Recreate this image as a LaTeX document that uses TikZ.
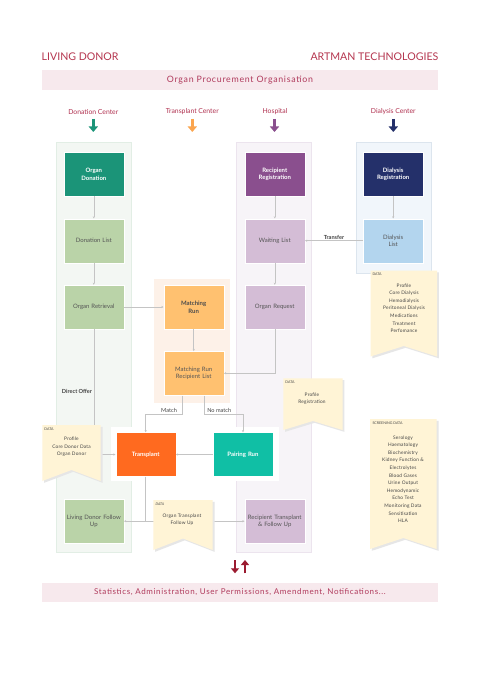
\documentclass[tikz,border=0pt]{standalone}
\usepackage{fontspec}
\setmainfont{Lato}
\newfontfamily\spacedfont[LetterSpace=8]{Lato}
\newfontfamily\notefont[LetterSpace=4]{Lato}
\usetikzlibrary{arrows.meta,calc}
\definecolor{crimson}{HTML}{B5364F}
\definecolor{bannerfill}{HTML}{F7E9ED}
\definecolor{bannertext}{HTML}{B03A5C}
\definecolor{hdrtext}{HTML}{B0304F}
\definecolor{cgreen}{HTML}{1B9478}
\definecolor{corange}{HTML}{FBA54E}
\definecolor{cpurple}{HTML}{8A4F8E}
\definecolor{cnavy}{HTML}{24306A}
\definecolor{lgreen}{HTML}{BAD3A8}
\definecolor{lpurple}{HTML}{D4BDD6}
\definecolor{lblue}{HTML}{B3D5EE}
\definecolor{mrun}{HTML}{FFC170}
\definecolor{tplant}{HTML}{FF6A1F}
\definecolor{pairing}{HTML}{10BFA5}
\definecolor{colgreen}{HTML}{F3F7F3}
\definecolor{colgreenb}{HTML}{E2EEE5}
\definecolor{colpurple}{HTML}{F7F4F8}
\definecolor{colpurpleb}{HTML}{ECE4EE}
\definecolor{colblue}{HTML}{F1F6FB}
\definecolor{colblueb}{HTML}{DCE5EE}
\definecolor{peach}{HTML}{FDF1E8}
\definecolor{notefill}{HTML}{FFF4D6}
\definecolor{noteshadow}{HTML}{E6E6E6}
\definecolor{linegray}{HTML}{C4C4C4}
\definecolor{textgray}{HTML}{555555}
\definecolor{darkarrow}{HTML}{9B1B30}
\begin{document}
\begin{tikzpicture}[x=1pt,y=-1pt,
  box/.style={minimum width=59pt,minimum height=44pt,inner sep=1pt,align=center,text width=58pt,draw=white,line width=0.4pt},
  darkbox/.style={box,text=white,font=\bfseries\fontsize{6}{7.6}\selectfont},
  lightbox/.style={box,text=textgray,font=\fontsize{6}{7.6}\selectfont},
  conn/.style={draw=linegray,line width=0.6pt,-{Stealth[length=2.2pt,width=2.2pt]}},
  colhdr/.style={text=hdrtext,font=\fontsize{6.8}{8}\selectfont},
  hdrarrow/.style={line width=3.3pt,-{Triangle[width=9pt,length=5.5pt]}},
  lbl/.style={text=textgray!80!black,font=\bfseries\fontsize{5.6}{6.8}\selectfont,inner sep=0.5pt},
  notetext/.style={text=textgray!80!black,font=\notefont\fontsize{4.8}{7.6}\selectfont,align=center,inner sep=0pt},
  notetag/.style={text=textgray!80!black,font=\fontsize{3.6}{4}\selectfont,inner sep=0pt,anchor=west}
]
\useasboundingbox (0,0) rectangle (480,679);
\fill[white] (0,0) rectangle (480,679);

% header
\node[anchor=west,text=crimson,font=\fontsize{10.6}{12}\selectfont,inner sep=0pt] (ld) at (41.5,57) {LIVING DONOR};
\node[anchor=east,text=crimson,font=\fontsize{10.6}{12}\selectfont,inner sep=0pt] (at) at (438.5,57) {ARTMAN TECHNOLOGIES};
\fill[bannerfill] (41.7,70) rectangle (438.3,90);
\node[text=bannertext,font=\spacedfont\fontsize{8.8}{9}\selectfont,inner sep=0pt] (opo) at (240,80.2) {Organ Procurement Organisation};

% column headers
\node[colhdr] (hdc) at (93.3,111.7) {Donation Center};
\node[colhdr] (htc) at (192.3,111.7) {Transplant Center};
\node[colhdr] (hho) at (275,111.7) {Hospital};
\node[colhdr] (hdi) at (393.3,111.7) {Dialysis Center};
\draw[hdrarrow,cgreen] (93.3,119) -- (93.3,132);
\draw[hdrarrow,corange] (192.3,119) -- (192.3,132);
\draw[hdrarrow,cpurple] (274.5,119) -- (274.5,132);
\draw[hdrarrow,cnavy] (393.3,119) -- (393.3,132);

% column backgrounds
\filldraw[fill=colgreen,draw=colgreenb,line width=0.6pt] (56,142) rectangle (131,552.7);
\filldraw[fill=colpurple,draw=colpurpleb,line width=0.6pt] (236.7,142) rectangle (311.7,552.7);
\filldraw[fill=colblue,draw=colblueb,line width=0.6pt] (356.3,142) rectangle (431.3,273.3);
\fill[peach] (154.3,279) rectangle (230,402.7);
\fill[white] (110.7,427.3) rectangle (278.7,480.7);

% boxes
\node[darkbox,fill=cgreen] (od) at (93.8,174.2) {Organ\\Donation};
\node[lightbox,fill=lgreen] (dlist) at (93.8,240.7) {Donation List};
\node[lightbox,fill=lgreen] (ret) at (93.8,307) {Organ Retrieval};
\node[lightbox,fill=mrun,text=textgray!90!black] (mr) at (193.7,307) {\bfseries Matching\\\bfseries Run};
\node[lightbox,fill=mrun] (mrrl) at (193.7,373.3) {Matching Run\\Recipient List};
\node[darkbox,fill=cpurple] (rr) at (274.8,174.2) {Recipient\\Registration};
\node[lightbox,fill=lpurple] (wl) at (274.8,240.7) {Waiting List};
\node[lightbox,fill=lpurple] (oreq) at (274.8,307) {Organ Request};
\node[darkbox,fill=cnavy] (dr) at (393.2,174.2) {Dialysis\\Registration};
\node[lightbox,fill=lblue] (dl) at (393.2,240.7) {Dialysis\\List};
\node[darkbox,fill=tplant] (tr) at (145.7,454.5) {Transplant};
\node[darkbox,fill=pairing] (pr) at (243,454.5) {Pairing Run};
\node[lightbox,fill=lgreen] (ldf) at (93.8,521.2) {Living Donor Follow\\Up};
\node[lightbox,fill=lpurple] (rtf) at (274.7,521.2) {Recipient Transplant\\\& Follow Up};

% connectors
\draw[conn] (od) -- (dlist);
\draw[conn] (dlist) -- (ret);
\draw[conn] (ret) -- (mr);
\draw[conn] (mr) -- (mrrl);
\draw[conn] (rr) -- (wl);
\draw[conn] (wl) -- (oreq);
\draw[conn] (dr) -- (dl);
\draw[conn] (dl) -- node[lbl,above=0.6pt] (tlab) {Transfer} (wl);
\draw[conn] (oreq.south) |- (mrrl.east);
\draw[conn] (ret.south) |- (tr.west);
\node[lbl] (doff) at (77,391.7) {Direct Offer};
\draw[conn] ($(mrrl.south)+(-11,0)$) |- ++(0,18.3) -| (tr.north);
\draw[conn] ($(mrrl.south)+(10.6,0)$) |- ++(0,18.3) -| (pr.north);
\node[lbl,font=\fontsize{5.6}{6.8}\selectfont,anchor=base east] (mlab) at (177.6,412.2) {Match};
\node[lbl,font=\fontsize{5.6}{6.8}\selectfont,anchor=base west] (nmlab) at (206.6,412.2) {No match};
\draw[conn] (pr) -- (tr);
\draw[conn] (tr.south) |- (ldf.east);
\draw[conn] (tr.south) |- (rtf.west);

% data notes
\newcommand\notepoly[5]{% x1 y1 x2 y2 notch
  \fill[noteshadow] ({#1+1.8},{#2+1.8}) -- ({#3+1.8},{#2+1.8}) -- ({#3+1.8},{#4+1.8}) -- ({(#1+#3)/2+1.8},{#5+1.8}) -- ({#1+1.8},{#4+1.8}) -- cycle;
  \fill[notefill] (#1,#2) -- (#3,#2) -- (#3,#4) -- ({(#1+#3)/2},#5) -- (#1,#4) -- cycle;}

\notepoly{370.5}{270.5}{437}{356.5}{346}
\node[notetag] (n1t) at (372.3,274.7) {DATA};
\node[notetext,anchor=north] (n1) at (404,283.3) {Profile\\Core Dialysis\\Hemodialysis\\Peritoneal Dialysis\\Medications\\Treatment\\Perfomance};

\notepoly{283.3}{378.3}{342.5}{430}{421}
\node[notetag] (n2t) at (285.2,382.7) {DATA};
\node[notetext,anchor=north] (n2) at (312,392.3) {Profile\\Registration};

\notepoly{370}{419}{436.7}{549}{538}
\node[notetag] (n3t) at (372.3,423) {SCREENING DATA};
\node[notetext,anchor=north] (n3) at (403,435.3) {Serology\\Haematology\\Biochemistry\\Kidney Function \&\\Electrolytes\\Blood Gases\\Urine Output\\Hemodynamic\\Echo Test\\Monitoring Data\\Sensitisation\\HLA};

\notepoly{42.3}{425}{100.7}{481}{470}
\node[notetag] (n4t) at (44.2,429) {DATA};
\node[notetext,anchor=north] (n4) at (71.5,437) {Profile\\Core Donor Data\\Organ Donor};

\notepoly{153.3}{500}{212.7}{550}{538.5}
\node[notetag,font=\itshape\fontsize{3.6}{4}\selectfont] (n5t) at (155.5,504.3) {DATA};
\node[notetext,anchor=north] (n5) at (182,513.3) {Organ Transplant\\Follow Up};

% bottom
\draw[line width=2.6pt,-{Triangle[width=8pt,length=5pt]},darkarrow] (235,560) -- (235,573.3);
\draw[line width=2.6pt,-{Triangle[width=8pt,length=5pt]},darkarrow] (245,573.3) -- (245,560);
\fill[bannerfill] (41.7,582.7) rectangle (438.3,601.7);
\node[text=bannertext,font=\spacedfont\fontsize{8}{9}\selectfont,inner sep=0pt] (bot) at (240,591.9) {Statistics, Administration, User Permissions, Amendment, Notifications...};
\end{tikzpicture}
\end{document}
